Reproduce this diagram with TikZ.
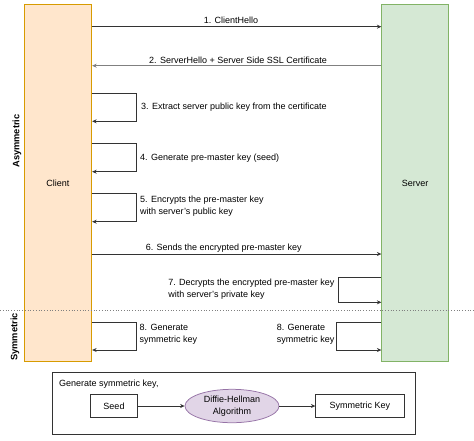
\documentclass[tikz,border=0pt]{standalone}
\usepackage{fontspec}
\setmainfont{Liberation Sans}
\usepackage{tikz}
\usetikzlibrary{arrows.meta,shapes.geometric}
\definecolor{clientfill}{HTML}{FFE6CC}
\definecolor{clientdraw}{HTML}{D79B00}
\definecolor{serverfill}{HTML}{D5E8D4}
\definecolor{serverdraw}{HTML}{82B366}
\definecolor{algofill}{HTML}{E1D5E7}
\definecolor{algodraw}{HTML}{9673A6}
\definecolor{edgegray}{HTML}{333333}
\begin{document}
\begin{tikzpicture}
[every node/.style={inner sep=0pt, font=\fontsize{9pt}{11.5pt}\selectfont},
 >={Stealth[length=4.5pt,width=4pt]},
 side/.style={rotate=90, font=\fontsize{9.3pt}{11pt}\selectfont\bfseries}]
\useasboundingbox (0pt, 0pt) rectangle (474pt, -440pt);
% client and server
\node (1) [rectangle, minimum width=67.5pt, minimum height=357pt, fill=clientfill, line width=0.75pt, draw=clientdraw] at (58pt, -182.5pt) {};
\node (2) [rectangle, minimum width=66.5pt, minimum height=357pt, fill=serverfill, line width=0.75pt, draw=serverdraw] at (415pt, -182.5pt) {};
\node at (58pt, -183pt) {Client};
\node at (415pt, -183pt) {Server};
\node at (17pt, -141pt) [side] {Asymmetric};
\node at (15pt, -337pt) [side] {Symmetric};
% points on the boxes
\coordinate (c1) at (1.east |- 0pt, -26.7pt);
\coordinate (s1) at (2.west |- 0pt, -26.7pt);
\coordinate (c2) at (1.east |- 0pt, -65.7pt);
\coordinate (s2) at (2.west |- 0pt, -65.7pt);
\coordinate (c3) at (1.east |- 0pt, -93.3pt);
\coordinate (c3b) at (1.east |- 0pt, -121.3pt);
\coordinate (c4) at (1.east |- 0pt, -143.7pt);
\coordinate (c4b) at (1.east |- 0pt, -171.7pt);
\coordinate (c5) at (1.east |- 0pt, -193.3pt);
\coordinate (c5b) at (1.east |- 0pt, -221.7pt);
\coordinate (c6) at (1.east |- 0pt, -254pt);
\coordinate (s6) at (2.west |- 0pt, -254pt);
\coordinate (s7) at (2.west |- 0pt, -277.7pt);
\coordinate (s7b) at (2.west |- 0pt, -302.3pt);
\coordinate (c8) at (1.east |- 0pt, -322.3pt);
\coordinate (c8b) at (1.east |- 0pt, -350pt);
\coordinate (s8) at (2.west |- 0pt, -322.3pt);
\coordinate (s8b) at (2.west |- 0pt, -350pt);
% messages
\draw [line width=0.75, ->, color=edgegray] (c1) -- (s1);
\draw [line width=1.1, ->, color=gray] (s2) -- (c2);
\draw [line width=0.75, ->, color=edgegray] (c3) -- (136.7pt, -93.3pt) -- (136.7pt, -121.3pt) -- (c3b);
\draw [line width=0.75, ->, color=edgegray] (c4) -- (136.7pt, -143.7pt) -- (136.7pt, -171.7pt) -- (c4b);
\draw [line width=0.75, ->, color=edgegray] (c5) -- (136.7pt, -193.3pt) -- (136.7pt, -221.7pt) -- (c5b);
\draw [line width=0.75, ->, color=edgegray] (c6) -- (s6);
\draw [line width=0.75, ->, color=edgegray] (s7) -- (338pt, -277.7pt) -- (338pt, -302.3pt) -- (s7b);
\draw [line width=0.75, ->, color=edgegray] (c8) -- (136.7pt, -322.3pt) -- (136.7pt, -350pt) -- (c8b);
\draw [line width=0.75, ->, color=edgegray] (s8) -- (336.7pt, -322.3pt) -- (336.7pt, -350pt) -- (s8b);
\node at (231pt, -20pt) {1. ClientHello};
\node at (238pt, -60pt) {2. ServerHello + Server Side SSL Certificate};
\node at (141pt, -107.3pt) [anchor=west] {3. Extract server public key from the certificate};
\node at (140pt, -157.7pt) [anchor=west] {4. Generate pre-master key (seed)};
\node at (140pt, -206pt) [anchor=west, align=left] {5. Encrypts the pre-master key\\with server's public key};
\node at (223.8pt, -248pt) {6. Sends the encrypted pre-master key};
\node at (334.5pt, -289pt) [anchor=east, align=left] {7. Decrypts the encrypted pre-master key\\with server's private key};
\node at (139.5pt, -334.5pt) [anchor=west, align=left] {8. Generate\\symmetric key};
\node at (334.5pt, -334.5pt) [anchor=east, align=left] {8. Generate\\symmetric key};
% dotted divider
\coordinate (d1) at (0pt, -310.7pt);
\coordinate (d2) at (474pt, -310.7pt);
\draw [line width=0.75, dotted, color=gray] (d1) -- (d2);
% key generation
\node (6) [rectangle, minimum width=363.4pt, minimum height=61.3pt, line width=0.75pt, draw=edgegray] at (234pt, -403.3pt) {};
\node at (59pt, -384.3pt) [anchor=west] {Generate symmetric key,};
\node (3) [rectangle, minimum width=46.6pt, minimum height=23.3pt, fill=white, line width=0.75pt, draw=edgegray] at (114pt, -406pt) {Seed};
\node (4) [ellipse, minimum width=94pt, minimum height=33.4pt, fill=algofill, line width=0.75pt, draw=algodraw, align=center] at (232pt, -406pt) {Diffie-Hellman\\Algorithm};
\node (5) [rectangle, minimum width=88.3pt, minimum height=22.3pt, fill=white, line width=0.75pt, draw=edgegray] at (359.9pt, -406pt) {Symmetric Key};
\draw [line width=0.75, ->, color=edgegray] (3) to (4);
\draw [line width=0.75, ->, color=edgegray] (4) to (5);
\end{tikzpicture}
\end{document}
